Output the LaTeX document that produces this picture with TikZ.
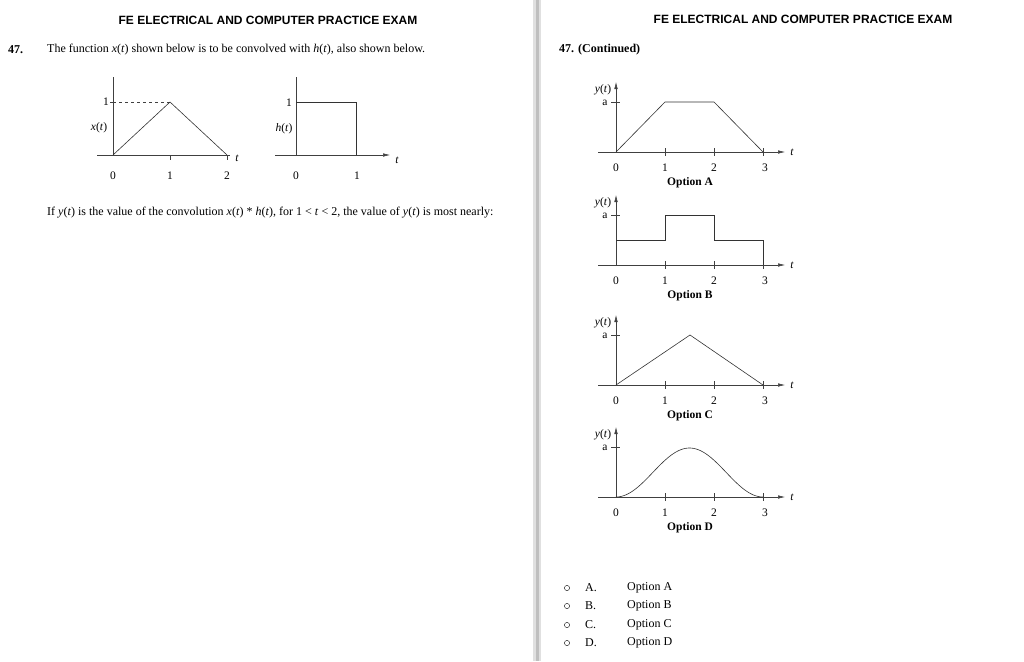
\documentclass[tikz,border=0pt]{standalone}
\usepackage{fontspec}
\setmainfont{Liberation Serif}
\setsansfont{Liberation Sans}
\usetikzlibrary{arrows.meta}
\begin{document}
\begin{tikzpicture}[x=1pt,y=-1pt,
  ax/.style={draw=black!75,line width=0.5pt},
  axa/.style={ax,-{Latex[length=7pt,width=3.5pt]}},
  crv/.style={draw=black!80,line width=0.6pt},
  lbl/.style={font=\fontsize{11.5}{13}\selectfont,inner sep=0pt},
  body/.style={font=\fontsize{12}{14}\selectfont,inner sep=0pt,anchor=west},
  hdr/.style={font=\sffamily\bfseries\fontsize{12}{14}\selectfont,inner sep=0pt},
  opt/.style={font=\bfseries\fontsize{11.5}{13}\selectfont,inner sep=0pt}]
\useasboundingbox (0,0) rectangle (1024,661);
\fill[black!12] (533,0) rectangle (541,661);
\fill[black!25] (536,0) rectangle (539,661);
% headers
\node[hdr] (h1) at (268,20) {FE ELECTRICAL AND COMPUTER PRACTICE EXAM};
\node[hdr] (h2) at (803,19) {FE ELECTRICAL AND COMPUTER PRACTICE EXAM};
\node[body,font=\bfseries\fontsize{12}{14}\selectfont] (q) at (8,50) {47.};
\node[body] (q1) at (47,50) {The function \textit{x}(\textit{t}) shown below is to be convolved with \textit{h}(\textit{t}), also shown below.};
\node[body] (q2) at (47,213) {If \textit{y}(\textit{t}) is the value of the convolution \textit{x}(\textit{t}) * \textit{h}(\textit{t}), for 1 < \textit{t} < 2, the value of \textit{y}(\textit{t}) is most nearly:};
% x(t)
\draw[ax] (113,77) -- (113,155);
\draw[ax] (97,155) -- (230,155);
\draw[ax] (170,155) -- (170,160) (227,155) -- (227,160) (110,102) -- (113,102);
\draw[ax,dashed] (113,102) -- (170,102);
\draw[crv] (113,155) -- (170,102) -- (227,155);
\node[lbl] (xt) at (99,128) {\textit{x}(\textit{t})};
\node[lbl] (x1) at (106,102) {1};
\node[lbl] (xt0) at (113,176) {0};
\node[lbl] (xt1) at (170,176) {1};
\node[lbl] (xt2) at (227,176) {2};
\node[lbl] (xtt) at (237,158) {\textit{t}};
% h(t)
\draw[ax] (296,77) -- (296,155);
\draw[axa] (275,155) -- (390,155);
\draw[crv] (296,102) -- (356,102) -- (356,155);
\node[lbl] (ht) at (284,129) {\textit{h}(\textit{t})};
\node[lbl] (h1l) at (289,103) {1};
\node[lbl] (ht0) at (296,176) {0};
\node[lbl] (ht1) at (357,176) {1};
\node[lbl] (htt) at (397,160) {\textit{t}};
% right page
\node[body,font=\bfseries\fontsize{12}{14}\selectfont] (qc) at (559,50) {47. (Continued)};
\foreach \by/\nm in {152/A,265/B,385/C,497/D}{
  \draw[axa] (616,\by) -- (616,\by-70);
  \draw[axa] (598,\by) -- (785,\by);
  \draw[ax] (665,\by-4) -- (665,\by+4) (714,\by-4) -- (714,\by+4) (763,\by-4) -- (763,\by+4) (611,\by-50) -- (620,\by-50);
  \node[lbl] at (603,\by-62) {\textit{y}(\textit{t})};
  \node[lbl] at (605,\by-49) {a};
  \node[lbl] at (616,\by+16) {0};
  \node[lbl] at (665,\by+16) {1};
  \node[lbl] at (714,\by+16) {2};
  \node[lbl] at (765,\by+16) {3};
  \node[lbl] at (792,\by) {\textit{t}};
  \node[opt] at (690,\by+31) {Option \nm};
}
\draw[crv] (616,152) -- (665,102) -- (714,102) -- (763,152);
\draw[crv] (616,240) -- (665,240) -- (665,215) -- (714,215) -- (714,240) -- (763,240) -- (763,265);
\draw[crv] (616,385) -- (690,335) -- (763,385);
\draw[crv,domain=0:3,samples=60,smooth] plot ({616+49*\x},{497-49*(1-cos(120*\x))/2});
% choices
\foreach \yy/\l/\o in {588/A/A,606/B/B,625/C/C,643/D/D}{
  \draw[black!80,line width=0.5pt] (567,\yy) circle (2.6pt);
  \node[body] at (585,\yy) {\l.};
  \node[body] at (627,\yy) {Option \o};
}
\end{tikzpicture}
\end{document}
